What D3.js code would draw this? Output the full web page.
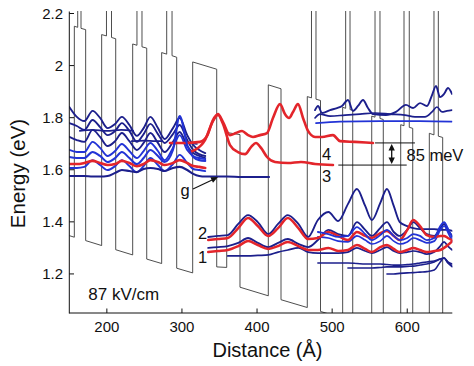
<!DOCTYPE html>
<html><head><meta charset="utf-8">
<script src="https://cdn.jsdelivr.net/npm/d3@7"></script>
<style>body{margin:0;background:#fff}svg{display:block}text{font-family:"Liberation Sans",Arial,Helvetica,sans-serif;fill:#111}</style>
</head><body><svg id="c" width="474" height="366"></svg>
<script>
// ---------- axes ----------
const xTicks=[200,300,400,500,600];
const yTicks=[1.2,1.4,1.6,1.8,2.0,2.2];
const yTickLabels=["1.2","1.4","1.6","1.8","2","2.2"];

// ---------- conduction band profile (distance Å, energy eV) ----------
const bandProfile=[[150,1.347],[156.7,1.341],[156.7,2.151],[161.2,2.147],[161.2,2.5],[165.6,2.5],[165.6,2.143],[171.8,2.138],[171.8,1.328],[193.1,1.309],[193.1,2.119],[199.5,2.114],[199.5,2.5],[206.2,2.5],[206.2,2.108],[211.8,2.103],[211.8,1.293],[234.4,1.273],[234.4,2.083],[240.1,2.078],[240.1,2.5],[246.8,2.5],[246.8,2.072],[253.1,2.067],[253.1,1.257],[273.0,1.240],[273.0,2.050],[279.7,2.044],[279.7,2.5],[286.8,2.5],[286.8,2.038],[293.0,2.032],[293.0,1.222],[314.3,1.204],[314.3,2.014],[346.3,1.986],[346.3,1.227],[359.6,1.225],[359.6,1.743],[377.3,1.735],[377.3,1.149],[415.0,1.116],[415.0,1.926],[431.9,1.911],[431.9,1.101],[466.9,1.071],[466.9,1.881],[472.5,1.876],[472.5,2.5],[478.5,2.5],[478.5,1.871],[484.5,1.866],[484.5,1.056],[514.0,1.030],[514.0,1.840],[518.0,1.836],[518.0,2.5],[523.8,2.5],[523.8,1.831],[527.4,1.828],[527.4,1.018],[552.7,0.996],[552.7,1.806],[557.1,1.802],[557.1,2.5],[563.7,2.5],[563.7,1.797],[568.1,1.793],[568.1,0.983],[591.3,0.963],[591.3,1.773],[595.7,1.769],[595.7,2.5],[602.7,2.5],[602.7,1.763],[607.3,1.759],[607.3,0.949],[629.4,0.930],[629.4,1.740],[635.6,1.734],[635.6,2.5],[641.4,2.5],[641.4,1.729],[647.2,1.724],[647.2,0.914],[660,0.903]];

// ---------- left (injector) states ----------
const leftX=[150,160,170,181,191,201,211,220,230,240,249,258,268,277,288,297,307,315,323,331];
const psiL1=[1.841,1.803,1.787,1.826,1.799,1.760,1.776,1.803,1.772,1.730,1.760,1.803,1.760,1.718,1.760,1.799,1.733,1.695,1.676,1.664];
const psiL2=[1.779,1.768,1.753,1.791,1.764,1.733,1.749,1.779,1.749,1.707,1.737,1.776,1.737,1.703,1.737,1.772,1.714,1.676,1.660,1.653];
const psiL3=[1.726,1.714,1.707,1.753,1.726,1.691,1.710,1.741,1.710,1.676,1.703,1.741,1.703,1.668,1.707,1.745,1.691,1.664,1.653,1.645];
const psiL4=[1.676,1.668,1.668,1.707,1.684,1.653,1.672,1.699,1.672,1.645,1.672,1.703,1.672,1.637,1.684,1.733,1.676,1.653,1.645,1.641];
const psiL5=[1.649,1.645,1.645,1.668,1.653,1.630,1.645,1.668,1.645,1.622,1.645,1.676,1.653,1.630,1.676,1.806,1.695,1.649,1.637,1.634];
const psiL6=[1.607,1.607,1.611,1.637,1.618,1.599,1.614,1.637,1.614,1.591,1.614,1.645,1.618,1.595,1.622,1.657,1.626,1.603,1.599,1.595];
const psiLred=[1.622,1.622,1.626,1.634,1.626,1.618,1.622,1.634,1.626,1.614,1.622,1.637,1.630,1.618,1.626,1.637,1.626,1.614,1.611,1.607];
const flat1X=[164,181,200,219,235], flat1E=[1.749,1.753,1.749,1.753,1.749];
const flat2X=[233,250,265,273], flat2E=[1.710,1.712,1.710,1.710];
const flat3X=[284,300,320], flat3E=[1.703,1.703,1.699];
const gX=[150,160,170,181,191,201,211,220,230,240,249,258,268,277,288,297,307,315,323,331,345,360,380,400,416];
const psiG=[1.576,1.576,1.576,1.574,1.574,1.576,1.588,1.599,1.595,1.591,1.603,1.607,1.603,1.595,1.607,1.611,1.599,1.584,1.576,1.574,1.574,1.574,1.572,1.572,1.572];

// ---------- upper laser states 4 and 3 ----------
const s4X=[284.1,304.1,324.0,333.4,341.3,348.0,354.7,364.0,372.0,380.0,388.0,394.6,404.0,413.3,421.2,430.6,437.2,442.6,447.9,454.5,461.2,467.9,477.2,486.5,501.1,510.5,530.4,554.4];
const psi4=[1.703,1.703,1.707,1.730,1.791,1.814,1.783,1.733,1.741,1.749,1.733,1.726,1.733,1.741,1.799,1.852,1.814,1.799,1.822,1.852,1.799,1.749,1.726,1.726,1.733,1.710,1.707,1.703];
const s3X=[310.7,317.4,330.7,341.3,348.0,354.7,364.0,374.6,384.0,392.0,398.6,405.3,413.3,423.9,441.2,458.5,477.2,501.1];
const psi3=[1.668,1.676,1.714,1.787,1.810,1.776,1.695,1.668,1.660,1.687,1.703,1.684,1.649,1.630,1.626,1.630,1.622,1.618];

// ---------- upper right states ----------
const ub1X=[477.2,481.2,486.5,497.2,506.5,513.1,521.1,527.8,534.4,541.1,547.7,554.4,571.7,585.0,598.3,607.7,617.0,626.3,633.0,638.3,643.6,649.0,654.3,659.6];
const psiUB1=[1.829,1.845,1.818,1.829,1.837,1.845,1.868,1.826,1.845,1.868,1.837,1.814,1.810,1.822,1.849,1.837,1.856,1.845,1.887,1.922,1.879,1.891,1.914,1.891];
const ub2X=[477.2,483.8,497.2,517.1,537.1,557.1,577.0,597.0,610.3,623.6,633.0,639.6,646.3,652.9,659.6];
const psiUB2=[1.799,1.814,1.806,1.810,1.814,1.818,1.814,1.810,1.803,1.803,1.822,1.841,1.822,1.826,1.829];
const ub3X=[478.5,510.5,563.7,617.0,659.6];
const psiUB3=[1.779,1.785,1.787,1.787,1.785];

// ---------- lower states 2, 1 and neighbours ----------
const lowX=[335,348,361,375,388,401,415,428,441,455,468,481,495,508,521,533,544,553,564,573,582,590,600,608,617,626,636,644,649,654,660];
const psiT=[1.342,1.346,1.349,1.392,1.426,1.399,1.353,1.392,1.426,1.392,1.342,1.407,1.438,1.403,1.468,1.526,1.461,1.407,1.472,1.526,1.461,1.399,1.384,1.376,1.372,1.372,1.372,1.369,1.369,1.369,1.365];
const psi2red=[1.330,1.334,1.338,1.376,1.415,1.384,1.346,1.376,1.415,1.376,1.334,1.338,1.361,1.346,1.330,1.361,1.346,1.338,1.357,1.365,1.346,1.330,1.369,1.407,1.384,1.349,1.342,1.346,1.346,1.338,1.330];
const psiN1=[1.300,1.303,1.307,1.319,1.338,1.319,1.303,1.319,1.334,1.315,1.303,1.330,1.369,1.353,1.346,1.399,1.369,1.346,1.376,1.399,1.361,1.346,1.369,1.399,1.376,1.353,1.346,1.376,1.392,1.369,1.346];
const psi1red=[1.284,1.288,1.292,1.307,1.326,1.311,1.296,1.307,1.323,1.307,1.292,1.292,1.300,1.288,1.292,1.311,1.296,1.284,1.303,1.311,1.296,1.284,1.292,1.300,1.292,1.284,1.288,1.292,1.300,1.311,1.326];
const n0X=[361,375,388,401,415,428,441,455,468,481,495,508,521,533,544,553,564,573,582,590,600,608,617,626,636,644,649,654,660];
const psiN0=[1.269,1.269,1.269,1.271,1.273,1.284,1.292,1.300,1.284,1.280,1.280,1.280,1.284,1.300,1.288,1.280,1.292,1.303,1.288,1.280,1.284,1.288,1.284,1.276,1.284,1.307,1.323,1.307,1.292];
const rightX=[481,495,508,521,533,544,553,564,573,582,590,600,608,617,626,636,644,649,654,660];
const psiBa=[1.361,1.353,1.342,1.346,1.380,1.353,1.330,1.349,1.369,1.346,1.330,1.338,1.353,1.346,1.330,1.338,1.384,1.399,1.376,1.338];
const psiBb=[1.342,1.338,1.326,1.323,1.346,1.330,1.315,1.326,1.346,1.326,1.315,1.323,1.338,1.330,1.319,1.326,1.369,1.384,1.361,1.323];
const psiLB1=[1.242,1.242,1.242,1.242,1.240,1.238,1.238,1.238,1.236,1.234,1.234,1.236,1.238,1.242,1.246,1.250,1.257,1.261,1.246,1.238];
const lb2X=[521,533,544,553,564,573,582,590,600,608,617,626,636,644,649,654,660];
const psiLB2=[1.223,1.223,1.223,1.223,1.225,1.227,1.227,1.227,1.229,1.230,1.234,1.238,1.246,1.257,1.261,1.246,1.230];
const lb3X=[573,582,590,600,608,617,626,636,644,649,654,660];
const psiLB3=[1.200,1.200,1.202,1.204,1.205,1.207,1.209,1.215,1.246,1.261,1.242,1.227];

// ---------- annotation values ----------
const level4=1.703, level3=1.618;
const splitting="85 meV";
const fieldLabel="87 kV/cm";

// ---------- drawing ----------
const svg=d3.select("#c");
const x=d3.scaleLinear().domain([150,660]).range([69.3,452.3]);
const y=d3.scaleLinear().domain([1.05,2.2]).range([313,13.5]);
const NAVY="#1c1f8c", BLUE="#2233d6", RED="#e3252b", INK="#111";

svg.append("defs").append("clipPath").attr("id","pc").append("rect")
  .attr("x",69.3).attr("y",11).attr("width",383).attr("height",302);
const plot=svg.append("g").attr("clip-path","url(#pc)");

plot.append("path").datum(bandProfile)
  .attr("d",d3.line().x(d=>x(d[0])).y(d=>y(d[1])))
  .attr("fill","none").attr("stroke","#3a3a3a").attr("stroke-width",0.9);

const wline=d3.line().x(d=>x(d[0])).y(d=>y(d[1])).curve(d3.curveMonotoneX);
function wave(xs,es,color,w){
  const pts=xs.map((v,i)=>[v,es[i]]);
  plot.append("path").datum(pts).attr("d",wline)
    .attr("fill","none").attr("stroke",color).attr("stroke-width",w)
    .attr("stroke-linejoin","round").attr("stroke-linecap","round");
}
// blue / navy states
wave(leftX,psiL1,NAVY,1.9);
wave(flat1X,flat1E,NAVY,1.7);
wave(flat2X,flat2E,NAVY,1.7);
wave(flat3X,flat3E,NAVY,1.7);
wave(leftX,psiL2,NAVY,1.9);
wave(leftX,psiL3,NAVY,1.9);
wave(leftX,psiL4,BLUE,1.9);
wave(leftX,psiL6,BLUE,1.9);
wave(gX,psiG,NAVY,2.1);
wave(ub1X,psiUB1,NAVY,1.9);
wave(ub2X,psiUB2,NAVY,1.7);
wave(ub3X,psiUB3,BLUE,1.7);
wave(lowX,psiT,NAVY,1.9);
wave(lowX,psiN1,NAVY,1.9);
wave(n0X,psiN0,NAVY,1.7);
wave(rightX,psiLB1,NAVY,1.6);
wave(lb2X,psiLB2,NAVY,1.6);
wave(lb3X,psiLB3,NAVY,1.6);
wave(rightX,psiBb,BLUE,1.7);
// red states
wave(leftX,psiLred,RED,2.6);
wave(s3X,psi3,RED,2.6);
wave(s4X,psi4,RED,2.6);
wave(lowX,psi2red,RED,2.5);
wave(lowX,psi1red,RED,2.5);
wave(rightX,psiBa,BLUE,1.8);
wave(leftX,psiL5,BLUE,2.1);

// ---------- axes ----------
const ax=svg.append("g").attr("stroke",INK).attr("stroke-width",1);
ax.append("line").attr("x1",69.3).attr("x2",69.3).attr("y1",11.5).attr("y2",313.5);
ax.append("line").attr("x1",69.3).attr("x2",452.3).attr("y1",313).attr("y2",313);
yTicks.forEach((t,i)=>{
  ax.append("line").attr("x1",69.3).attr("x2",74).attr("y1",y(t)).attr("y2",y(t));
  svg.append("text").attr("x",63).attr("y",y(t)+5.2).attr("text-anchor","end")
    .attr("font-size",15).text(yTickLabels[i]);
});
xTicks.forEach(t=>{
  ax.append("line").attr("x1",x(t)).attr("x2",x(t)).attr("y1",313).attr("y2",308.5);
  svg.append("text").attr("x",x(t)).attr("y",331.5).attr("text-anchor","middle")
    .attr("font-size",15).text(t);
});
svg.append("text").attr("transform","translate(25,173.5) rotate(-90)")
  .attr("text-anchor","middle").attr("font-size",20.5).text("Energy (eV)");
svg.append("text").attr("x",267.5).attr("y",357).attr("text-anchor","middle")
  .attr("font-size",20).text("Distance (Å)");

// ---------- annotations ----------
const ann=svg.append("g");
ann.append("line").attr("x1",x(557.1)).attr("x2",x(610.3)).attr("y1",y(level4)).attr("y2",y(level4))
  .attr("stroke",INK).attr("stroke-width",1);
ann.append("line").attr("x1",x(508.2)).attr("x2",x(599.3)).attr("y1",y(level3)).attr("y2",y(level3))
  .attr("stroke",INK).attr("stroke-width",1);
const ax85=x(579.3), yt=y(level4)+1, yb=y(level3)-1;
ann.append("line").attr("x1",ax85).attr("x2",ax85).attr("y1",yt+5).attr("y2",yb-5).attr("stroke",INK).attr("stroke-width",1.3);
ann.append("path").attr("d",`M${ax85},${yt}L${ax85-3.2},${yt+6.5}L${ax85+3.2},${yt+6.5}Z`).attr("fill",INK);
ann.append("path").attr("d",`M${ax85},${yb}L${ax85-3.2},${yb-6.5}L${ax85+3.2},${yb-6.5}Z`).attr("fill",INK);
ann.append("text").attr("x",406.5).attr("y",160.5).attr("font-size",16.5).text(splitting);
ann.append("text").attr("x",326.5).attr("y",159.5).attr("text-anchor","middle").attr("font-size",16.5).text("4");
ann.append("text").attr("x",326.5).attr("y",181.5).attr("text-anchor","middle").attr("font-size",16.5).text("3");
ann.append("text").attr("x",202.5).attr("y",238.5).attr("text-anchor","middle").attr("font-size",16.5).text("2");
ann.append("text").attr("x",202.5).attr("y",262.5).attr("text-anchor","middle").attr("font-size",16.5).text("1");
ann.append("text").attr("x",185).attr("y",196).attr("text-anchor","middle").attr("font-size",16.5).text("g");
ann.append("text").attr("x",88.3).attr("y",300).attr("font-size",17).text(fieldLabel);
// g arrow
const gx0=x(314.7), gy0=y(1.526), gx1=x(348.0), gy1=y(1.572);
const ang=Math.atan2(gy1-gy0,gx1-gx0);
ann.append("line").attr("x1",gx0).attr("y1",gy0).attr("x2",gx1-6*Math.cos(ang)).attr("y2",gy1-6*Math.sin(ang))
  .attr("stroke",INK).attr("stroke-width",1.1);
const hx=gx1, hy=gy1, L=7, W=3;
ann.append("path").attr("d",`M${hx},${hy}L${hx-L*Math.cos(ang)+W*Math.sin(ang)},${hy-L*Math.sin(ang)-W*Math.cos(ang)}L${hx-L*Math.cos(ang)-W*Math.sin(ang)},${hy-L*Math.sin(ang)+W*Math.cos(ang)}Z`).attr("fill",INK);
</script></body></html>
